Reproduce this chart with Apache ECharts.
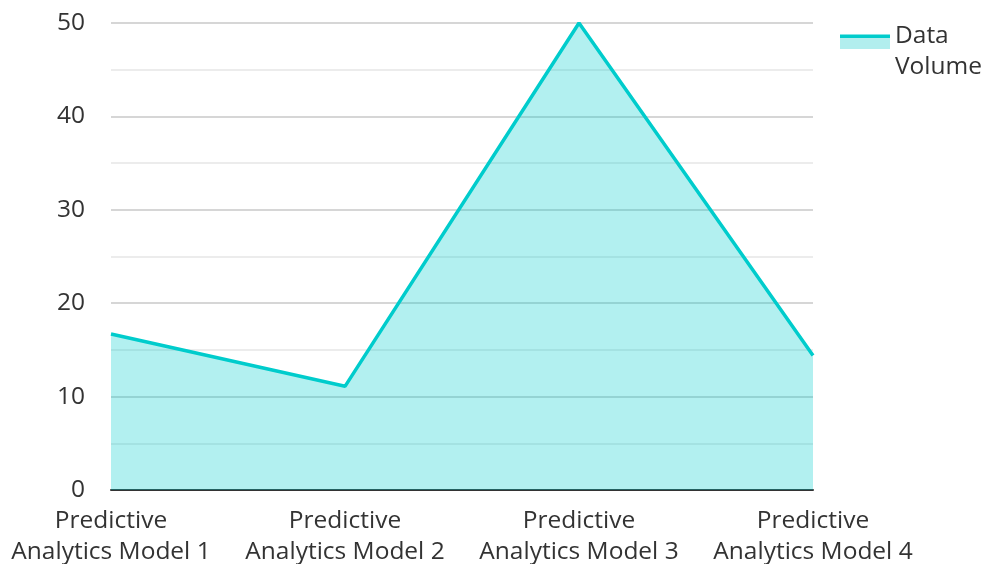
<!DOCTYPE html>
<html>
<head>
<meta charset="utf-8">
<script src="https://cdn.jsdelivr.net/npm/echarts@6/dist/echarts.min.js"></script>
<style>
    html, body { margin: 0; padding: 0; background: #fff; }
    #chart { width: 987px; height: 564px; }
</style>
</head>
<body>
<div id="chart"></div>
<script>
    var categories = ['Predictive\nAnalytics Model 1', 'Predictive\nAnalytics Model 2', 'Predictive\nAnalytics Model 3', 'Predictive\nAnalytics Model 4'];
    var dataVolume = [16.7, 11.1, 50, 14.4];
    var seriesName = 'Data\nVolume';

    var myChart = echarts.init(document.getElementById('chart'));
    var option = {
        textStyle: { fontFamily: 'Open Sans' },
        legend: {
            show: true,
            orient: 'vertical',
            left: 840,
            top: 21,
            padding: 0,
            icon: 'rect',
            itemWidth: 50,
            itemHeight: 35,
            // line on top, light area under it, rest transparent (keeps icon near first text line)
            itemStyle: {
                color: {
                    type: 'linear', x: 0, y: 0, x2: 0, y2: 1,
                    colorStops: [
                        { offset: 0, color: '#00cccc' },
                        { offset: 0.1, color: '#00cccc' },
                        { offset: 0.1, color: '#b2eeee' },
                        { offset: 0.4, color: '#b2eeee' },
                        { offset: 0.4, color: 'rgba(255,255,255,0)' },
                        { offset: 1, color: 'rgba(255,255,255,0)' }
                    ]
                }
            },
            textStyle: { fontSize: 24.5, color: '#333', lineHeight: 31, fontFamily: 'Open Sans' },
            data: [seriesName]
        },
        grid: { left: 111, right: 174, top: 23, bottom: 74, outerBoundsMode: 'none' },
        xAxis: {
            type: 'category',
            boundaryGap: false,
            data: categories,
            axisLine: { lineStyle: { color: '#333', width: 2 } },
            axisTick: { show: false },
            axisLabel: { interval: 0, fontSize: 24.5, color: '#333', lineHeight: 31, margin: 16, fontFamily: 'Open Sans' }
        },
        yAxis: {
            type: 'value',
            min: 0,
            max: 50,
            interval: 10,
            axisLine: { show: false },
            axisTick: { show: false },
            axisLabel: { fontSize: 24.5, color: '#333', margin: 26, padding: [3, 0, 0, 0], fontFamily: 'Open Sans' },
            splitLine: { lineStyle: { color: '#c8c8c8', width: 1.5 } },
            minorTick: { show: false, splitNumber: 2 },
            minorSplitLine: { show: true, lineStyle: { color: '#e6e6e6', width: 1.5 } }
        },
        series: [{
            name: seriesName,
            type: 'line',
            symbol: 'none',
            data: dataVolume,
            lineStyle: { color: '#00cccc', width: 3.5 },
            itemStyle: { color: '#00cccc' },
            areaStyle: { color: '#00cccc', opacity: 0.3 }
        }]
    };
    myChart.setOption(option);
</script>
</body>
</html>
